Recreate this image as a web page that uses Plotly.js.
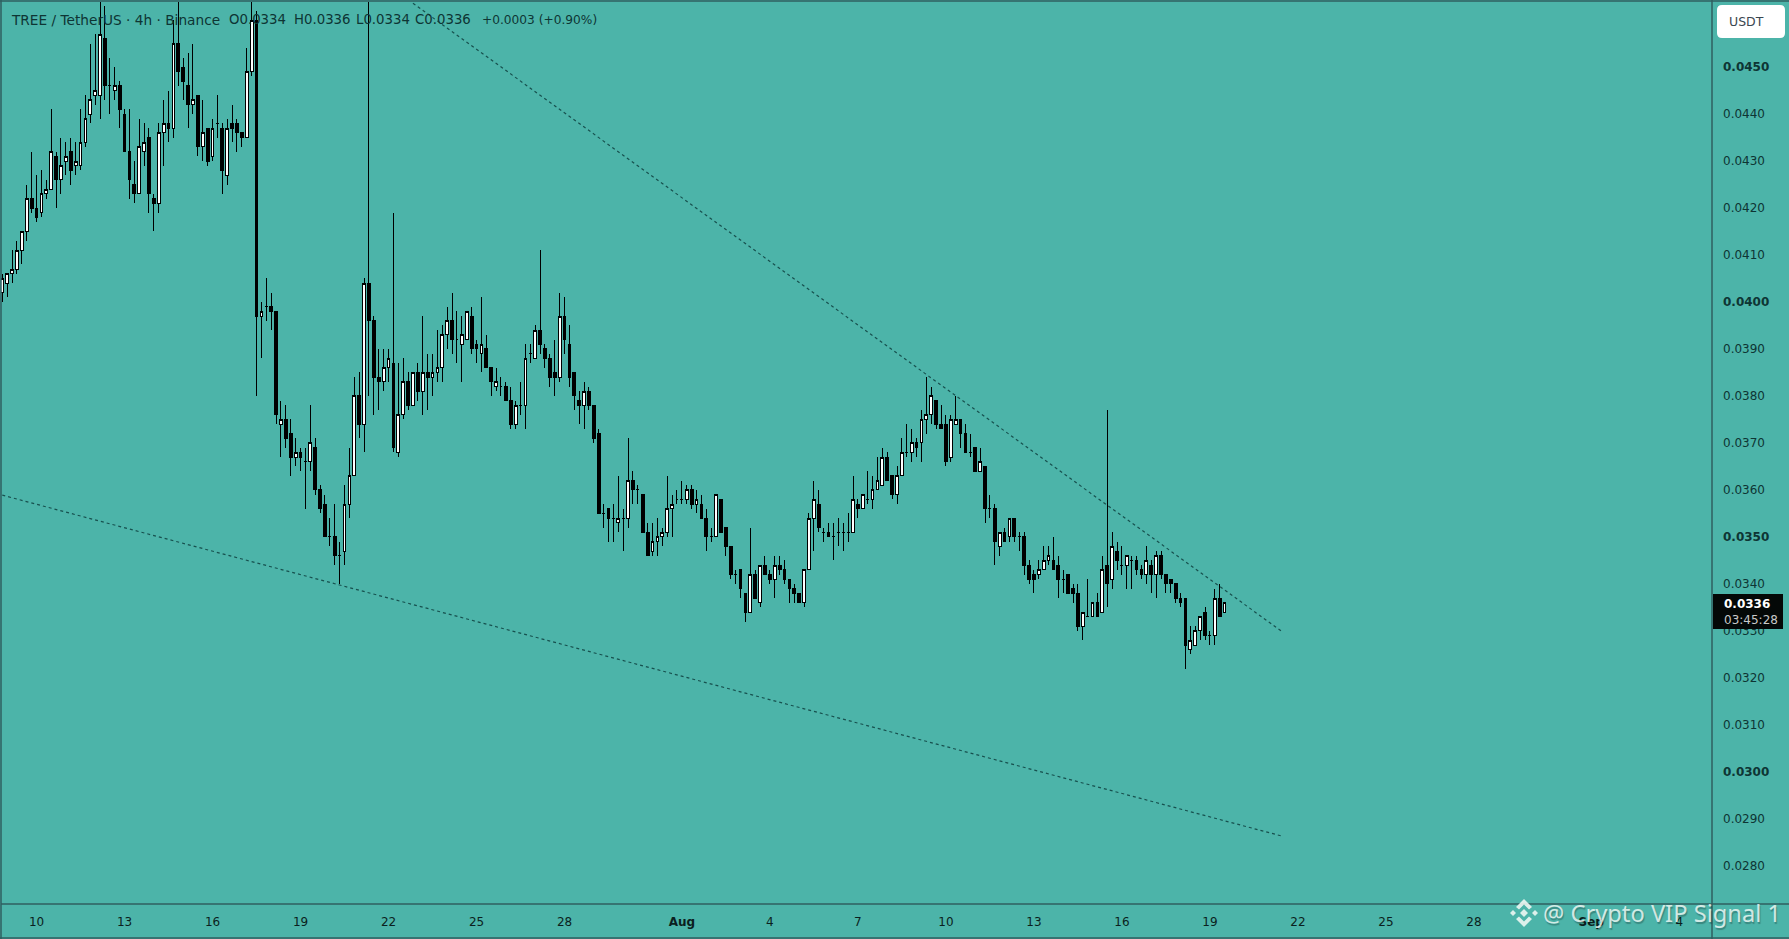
<!DOCTYPE html>
<html>
<head>
<meta charset="utf-8">
<script src="https://cdn.plot.ly/plotly-3.0.1.min.js"></script>
<style>html,body{margin:0;padding:0;background:#4cb4a9;overflow:hidden}#chart{width:1789px;height:939px}.boxlayer path{shape-rendering:crispEdges}</style>
</head>
<body>
<div id="chart"></div>
<script>
// 4h OHLC prices (tick size 0.0001)
const firstBar = Date.UTC(2025, 6, 8, 20);
const barHours = 4;
const open = [.0402,.0404,.0406,.0407,.0411,.0415,.0422,.0420,.0419,.0423,
.0424,.0431,.0426,.0430,.0432,.0429,.0429,.0434,.0440,.0444,
.0444,.0456,.0446,.0445,.0446,.0440,.0432,.0425,.0423,.0432,
.0435,.0422,.0421,.0436,.0438,.0437,.0455,.0450,.0446,.0442,
.0444,.0433,.0437,.0431,.0438,.0437,.0427,.0438,.0438,.0436,
.0435,.0449,.0460,.0397,.0399,.0399,.0398,.0374,.0375,.0372,
.0367,.0368,.0366,.0366,.0369,.0360,.0357,.0350,.0350,.0346,
.0347,.0357,.0363,.0380,.0374,.0404,.0396,.0384,.0383,.0386,
.0387,.0368,.0376,.0383,.0378,.0385,.0381,.0385,.0384,.0385,
.0386,.0393,.0396,.0392,.0391,.0392,.0397,.0391,.0389,.0390,
.0386,.0382,.0382,.0382,.0379,.0374,.0378,.0378,.0389,.0388,
.0394,.0390,.0388,.0385,.0384,.0397,.0391,.0385,.0379,.0378,
.0381,.0378,.0372,.0355,.0356,.0354,.0353,.0354,.0354,.0362,
.0360,.0359,.0351,.0347,.0349,.0350,.0351,.0356,.0358,.0358,
.0358,.0360,.0357,.0357,.0354,.0350,.0350,.0358,.0352,.0348,
.0342,.0343,.0338,.0334,.0342,.0336,.0344,.0342,.0341,.0344,
.0343,.0341,.0339,.0338,.0336,.0343,.0354,.0357,.0351,.0351,
.0350,.0351,.0351,.0351,.0351,.0357,.0356,.0358,.0358,.0360,
.0361,.0367,.0363,.0359,.0363,.0368,.0368,.0370,.0370,.0375,
.0376,.0379,.0374,.0374,.0367,.0374,.0375,.0372,.0368,.0369,
.0364,.0365,.0356,.0356,.0348,.0351,.0350,.0354,.0350,.0350,
.0344,.0342,.0342,.0343,.0345,.0345,.0344,.0341,.0342,.0339,
.0338,.0331,.0333,.0333,.0336,.0334,.0344,.0341,.0347,.0344,
.0344,.0345,.0345,.0343,.0342,.0344,.0342,.0346,.0342,.0341,
.0340,.0337,.0337,.0326,.0327,.0330,.0334,.0329,.0329,.0337,.0334];
const high = [.0406,.0406,.0411,.0413,.0415,.0425,.0432,.0427,.0428,.0426,
.0441,.0432,.0435,.0434,.0435,.0434,.0441,.0444,.0455,.0457,
.0466,.0463,.0452,.0450,.0447,.0441,.0441,.0430,.0439,.0438,
.0437,.0423,.0438,.0443,.0445,.0460,.0466,.0452,.0453,.0455,
.0444,.0443,.0437,.0439,.0444,.0438,.0439,.0442,.0439,.0436,
.0454,.0466,.0462,.0400,.0405,.0402,.0398,.0379,.0378,.0375,
.0371,.0369,.0369,.0378,.0371,.0361,.0359,.0354,.0357,.0349,
.0361,.0369,.0384,.0385,.0405,.0466,.0397,.0390,.0390,.0390,
.0419,.0387,.0388,.0385,.0385,.0387,.0397,.0389,.0389,.0394,
.0395,.0399,.0402,.0398,.0397,.0398,.0399,.0392,.0401,.0393,
.0386,.0386,.0384,.0383,.0382,.0379,.0383,.0391,.0391,.0395,
.0411,.0391,.0389,.0392,.0402,.0401,.0395,.0385,.0381,.0383,
.0382,.0378,.0373,.0357,.0356,.0357,.0363,.0356,.0371,.0364,
.0361,.0359,.0353,.0353,.0354,.0352,.0363,.0359,.0360,.0362,
.0361,.0361,.0360,.0359,.0356,.0352,.0359,.0358,.0352,.0348,
.0343,.0343,.0338,.0352,.0343,.0344,.0346,.0343,.0346,.0346,
.0345,.0341,.0340,.0338,.0343,.0355,.0362,.0360,.0352,.0353,
.0353,.0354,.0353,.0355,.0363,.0358,.0359,.0364,.0363,.0367,
.0369,.0368,.0363,.0365,.0371,.0374,.0373,.0371,.0377,.0384,
.0382,.0379,.0378,.0376,.0376,.0380,.0375,.0374,.0372,.0369,
.0369,.0365,.0359,.0357,.0351,.0352,.0354,.0354,.0351,.0351,
.0345,.0343,.0345,.0348,.0348,.0350,.0346,.0343,.0342,.0340,
.0340,.0334,.0341,.0336,.0338,.0346,.0377,.0351,.0349,.0348,
.0346,.0346,.0346,.0344,.0348,.0345,.0347,.0347,.0342,.0341,
.0340,.0338,.0337,.0331,.0331,.0333,.0335,.0330,.0339,.0340,.0336];
const low = [.0400,.0401,.0404,.0406,.0408,.0413,.0419,.0417,.0418,.0422,
.0424,.0420,.0423,.0427,.0425,.0427,.0428,.0433,.0438,.0442,
.0439,.0443,.0440,.0443,.0437,.0432,.0422,.0421,.0423,.0429,
.0419,.0415,.0419,.0429,.0434,.0435,.0446,.0443,.0437,.0440,
.0431,.0430,.0429,.0430,.0435,.0423,.0425,.0434,.0432,.0433,
.0435,.0448,.0380,.0388,.0396,.0394,.0374,.0367,.0369,.0363,
.0365,.0364,.0356,.0364,.0359,.0355,.0350,.0348,.0344,.0340,
.0344,.0354,.0363,.0371,.0368,.0380,.0376,.0377,.0381,.0383,
.0368,.0367,.0375,.0377,.0378,.0379,.0376,.0377,.0380,.0383,
.0383,.0390,.0389,.0387,.0383,.0392,.0389,.0387,.0385,.0386,
.0380,.0381,.0380,.0379,.0373,.0373,.0376,.0373,.0387,.0388,
.0389,.0386,.0382,.0380,.0383,.0389,.0382,.0377,.0374,.0373,
.0377,.0370,.0355,.0352,.0349,.0349,.0351,.0347,.0352,.0357,
.0357,.0351,.0346,.0346,.0346,.0348,.0350,.0350,.0357,.0357,
.0357,.0356,.0355,.0354,.0347,.0349,.0350,.0351,.0346,.0341,
.0340,.0337,.0332,.0334,.0337,.0335,.0342,.0340,.0337,.0342,
.0340,.0336,.0336,.0336,.0335,.0343,.0347,.0351,.0349,.0350,
.0345,.0348,.0347,.0349,.0351,.0354,.0356,.0357,.0356,.0360,
.0361,.0362,.0358,.0357,.0363,.0367,.0366,.0367,.0366,.0372,
.0374,.0373,.0373,.0365,.0366,.0374,.0369,.0368,.0367,.0364,
.0364,.0353,.0354,.0344,.0346,.0349,.0349,.0349,.0347,.0342,
.0340,.0338,.0341,.0343,.0344,.0343,.0337,.0338,.0338,.0336,
.0330,.0328,.0333,.0333,.0333,.0334,.0335,.0339,.0343,.0342,
.0339,.0339,.0342,.0341,.0340,.0338,.0337,.0341,.0338,.0338,
.0336,.0335,.0322,.0325,.0327,.0328,.0328,.0327,.0327,.0333,.0334];
const close = [.0405,.0406,.0407,.0411,.0415,.0422,.0420,.0418,.0423,.0424,
.0432,.0426,.0429,.0431,.0428,.0430,.0434,.0439,.0443,.0445,
.0457,.0446,.0446,.0446,.0441,.0432,.0426,.0423,.0433,.0434,
.0423,.0421,.0436,.0438,.0437,.0455,.0449,.0447,.0442,.0443,
.0433,.0436,.0430,.0437,.0438,.0428,.0437,.0437,.0436,.0435,
.0449,.0460,.0397,.0398,.0399,.0398,.0376,.0375,.0371,.0367,
.0368,.0367,.0366,.0370,.0360,.0356,.0350,.0350,.0346,.0346,
.0357,.0363,.0380,.0374,.0404,.0396,.0384,.0383,.0386,.0388,
.0369,.0376,.0383,.0378,.0385,.0381,.0385,.0384,.0385,.0386,
.0393,.0396,.0392,.0392,.0393,.0398,.0390,.0390,.0391,.0386,
.0383,.0383,.0382,.0379,.0374,.0378,.0378,.0388,.0389,.0394,
.0391,.0388,.0384,.0384,.0397,.0392,.0384,.0380,.0378,.0381,
.0378,.0371,.0355,.0355,.0354,.0354,.0354,.0354,.0362,.0360,
.0360,.0351,.0346,.0349,.0350,.0351,.0356,.0357,.0358,.0358,
.0360,.0357,.0358,.0354,.0350,.0350,.0359,.0351,.0348,.0342,
.0342,.0339,.0334,.0342,.0337,.0344,.0342,.0341,.0344,.0343,
.0341,.0339,.0338,.0336,.0343,.0354,.0358,.0352,.0351,.0350,
.0350,.0351,.0351,.0351,.0358,.0356,.0359,.0358,.0360,.0362,
.0367,.0362,.0359,.0363,.0368,.0368,.0370,.0369,.0375,.0376,
.0380,.0374,.0373,.0366,.0375,.0375,.0372,.0368,.0368,.0364,
.0366,.0356,.0356,.0349,.0351,.0349,.0354,.0350,.0350,.0344,
.0341,.0341,.0343,.0345,.0346,.0343,.0341,.0341,.0338,.0338,
.0331,.0334,.0333,.0336,.0333,.0343,.0340,.0348,.0345,.0344,
.0346,.0345,.0343,.0342,.0345,.0342,.0346,.0342,.0340,.0340,
.0337,.0336,.0327,.0328,.0330,.0333,.0329,.0329,.0337,.0333,.0336];

const upperLineX = ['2025-07-22 16:00', '2025-08-21 10:24'];
const upperLineY = [0.04643, 0.03300];
const lowerLineX = ['2025-07-08 20:00', '2025-08-21 10:24'];
const lowerLineY = [0.03589, 0.02864];

const xTickVals = ['2025-07-10','2025-07-13','2025-07-16','2025-07-19','2025-07-22','2025-07-25','2025-07-28','2025-08-01','2025-08-04','2025-08-07','2025-08-10','2025-08-13','2025-08-16','2025-08-19','2025-08-22','2025-08-25','2025-08-28','2025-09-01','2025-09-04'];
const xTickText = ['10','13','16','19','22','25','28','<b>Aug</b>','4','7','10','13','16','19','22','25','28','<b>Sep</b>','4'];
const yTickVals = [0.045,0.044,0.043,0.042,0.041,0.040,0.039,0.038,0.037,0.036,0.035,0.034,0.033,0.032,0.031,0.030,0.029,0.028];
const yTickText = ['<b>0.0450</b>','0.0440','0.0430','0.0420','0.0410','<b>0.0400</b>','0.0390','0.0380','0.0370','0.0360','<b>0.0350</b>','0.0340','0.0330','0.0320','0.0310','<b>0.0300</b>','0.0290','0.0280'];

const legendParts = [['TREE / TetherUS · 4h · Binance', 9, 13.7], ['O0.0334', 227, 13.3], ['H0.0336', 292, 13.3], ['L0.0334', 354, 13.3], ['C0.0336', 413, 13.3], ['+0.0003 (+0.90%)', 480, 12.2]];

const times = open.map((_, i) => new Date(firstBar + i * barHours * 3600e3).toISOString().slice(0, 16).replace('T', ' '));

const L = 1, R = 1712, T = 2, B = 904;
const px = x => (x - L) / (R - L);
const py = y => (B - y) / (B - T);
const pt = (x, y) => px(x) + ',' + py(y);
const FONT = '"DejaVu Sans", sans-serif';
const INK = '#0e3534';
const FRAME = '#2f5f60';
const BG = '#4cb4a9';

function poly(points) { return 'M' + points.map(p => pt(p[0], p[1])).join(' L') + ' Z'; }
function frameLine(x0, y0, x1, y1) {
  return {type: 'line', xref: 'paper', yref: 'paper', x0: px(x0), x1: px(x1), y0: py(y0), y1: py(y1), line: {color: FRAME, width: 1.5}, layer: 'above'};
}
const cx = 1524, cy = 913;
const logoPaths = [
  poly([[cx, cy-4],[cx+4, cy],[cx, cy+4],[cx-4, cy]]),
  poly([[cx-14, cy],[cx-11, cy-3],[cx-8, cy],[cx-11, cy+3]]),
  poly([[cx+14, cy],[cx+11, cy-3],[cx+8, cy],[cx+11, cy+3]]),
  poly([[cx, cy-14],[cx+8, cy-6],[cx+5, cy-3.5],[cx, cy-8.5],[cx-5, cy-3.5],[cx-8, cy-6]]),
  poly([[cx, cy+14],[cx+8, cy+6],[cx+5, cy+3.5],[cx, cy+8.5],[cx-5, cy+3.5],[cx-8, cy+6]])
];
const r = 5, bx0 = 1717, bx1 = 1785, by0 = 5, by1 = 38;
const usdtPath = 'M' + pt(bx0 + r, by0) + ' L' + pt(bx1 - r, by0) + ' Q' + pt(bx1, by0) + ' ' + pt(bx1, by0 + r) +
  ' L' + pt(bx1, by1 - r) + ' Q' + pt(bx1, by1) + ' ' + pt(bx1 - r, by1) +
  ' L' + pt(bx0 + r, by1) + ' Q' + pt(bx0, by1) + ' ' + pt(bx0, by1 - r) +
  ' L' + pt(bx0, by0 + r) + ' Q' + pt(bx0, by0) + ' ' + pt(bx0 + r, by0) + ' Z';

const shapes = [
  frameLine(1, 0, 1, 939), frameLine(0, 1, 1789, 1), frameLine(0, 938, 1789, 938),
  frameLine(1712, 0, 1712, 939), frameLine(1, 904, 1789, 904),
  {type: 'rect', xref: 'paper', yref: 'paper', x0: px(1713), x1: px(1783), y0: py(594), y1: py(629), fillcolor: '#040807', line: {width: 0}, layer: 'above'},
  {type: 'path', xref: 'paper', yref: 'paper', path: usdtPath, fillcolor: '#ffffff', line: {width: 0}, layer: 'above'}
].concat(logoPaths.map(p => ({type: 'path', xref: 'paper', yref: 'paper', path: p, fillcolor: 'rgba(236,246,242,0.9)', line: {width: 0}, layer: 'above'})));

function note(text, x, y, size, color, anchor, extra) {
  return Object.assign({text, xref: 'paper', yref: 'paper', x: px(x), y: py(y), xanchor: anchor || 'left', yanchor: 'middle', showarrow: false,
    font: {family: FONT, size, color}}, extra || {});
}
const annotations = legendParts.map(p => note(p[0], p[1], 20, p[2], INK))
  .concat([
    note('USDT', 1746, 21, 12.5, '#3a4650', 'center'),
    note('<b>0.0336</b>', 1722, 604, 12, '#ffffff'),
    note('03:45:28', 1722, 620, 12, '#c9c9c9'),
    {text: '@ Crypto VIP Signal 1', xref: 'paper', yref: 'paper', x: px(1541), y: py(913), xanchor: 'left', yanchor: 'middle', showarrow: false,
     font: {family: '"Noto Sans", sans-serif', size: 23.7, color: 'rgba(236,246,242,0.85)', shadow: '1px 2px 1px rgba(0,0,0,0.3)'}}
  ]);

const traces = [
  {type: 'scatter', mode: 'lines', x: upperLineX, y: upperLineY, line: {color: '#17504e', width: 1.2, dash: 'dot'}, hoverinfo: 'skip', showlegend: false},
  {type: 'scatter', mode: 'lines', x: lowerLineX, y: lowerLineY, line: {color: '#17504e', width: 1.2, dash: 'dot'}, hoverinfo: 'skip', showlegend: false},
  {type: 'candlestick', x: times, open, high, low, close, whiskerwidth: 0, showlegend: false,
   increasing: {line: {color: '#000000', width: 1}, fillcolor: '#ffffff'},
   decreasing: {line: {color: '#000000', width: 1}, fillcolor: '#000000'}}
];

const layout = {
  width: 1789, height: 939,
  margin: {l: L, r: 1789 - R, t: T, b: 939 - B, pad: 0},
  paper_bgcolor: BG, plot_bgcolor: BG,
  showlegend: false,
  boxgap: 0.18,
  xaxis: {type: 'date', range: ['2025-07-08 18:56', '2025-09-05 02:48'], rangeslider: {visible: false},
    tickmode: 'array', tickvals: xTickVals, ticktext: xTickText, ticks: '', showgrid: false, zeroline: false, showline: false,
    tickangle: 0, ticklabelstandoff: 9,
    tickfont: {family: FONT, size: 12, color: '#0b1f20'}},
  yaxis: {side: 'right', range: [0.027191, 0.046383], tickmode: 'array', tickvals: yTickVals, ticktext: yTickText, ticks: '',
    showgrid: false, zeroline: false, showline: false, ticklabelstandoff: 10,
    tickfont: {family: FONT, size: 12, color: INK}},
  shapes, annotations
};
Plotly.newPlot('chart', traces, layout, {staticPlot: true, displayModeBar: false});
</script>
</body>
</html>
